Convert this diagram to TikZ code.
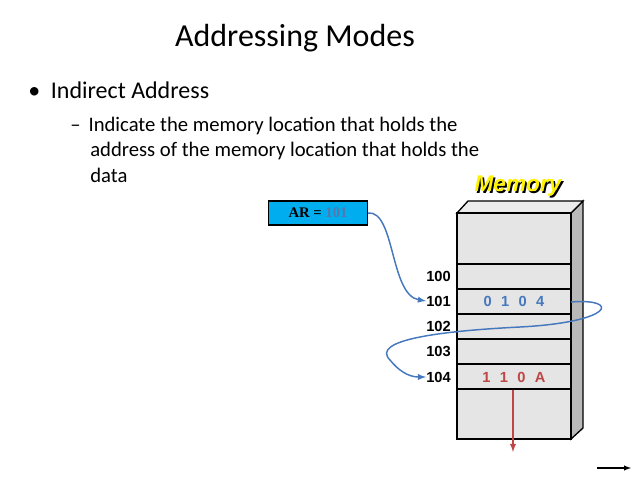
\documentclass[tikz,border=0pt]{standalone}
\usepackage{fontspec}
\setmainfont{Carlito}
\newfontfamily\arialf{Liberation Sans}
\newfontfamily\timesf{Liberation Serif}
\begin{document}
\begin{tikzpicture}[x=0.75pt,y=-0.75pt,
  lbl/.style={font=\arialf\bfseries\fontsize{11}{13}\selectfont,anchor=east,inner sep=0},
  val/.style={font=\arialf\bfseries\fontsize{11}{13}\selectfont,inner sep=0},
  cell/.style={draw=black,line width=1pt,fill=gray!20},
  barrow/.style={draw={rgb,255:red,70;green,120;blue,190},line width=1.1pt,-latex}]
\useasboundingbox (0,0) rectangle (638,478);
\node[font=\fontsize{24}{28}\selectfont] (title) at (295,38) {Addressing Modes};
\node[font=\fontsize{18}{22}\selectfont,anchor=west,inner sep=0] (b1) at (28,90) {\textbullet\hspace{8pt}Indirect Address};
\node[font=\fontsize{15.5}{20}\selectfont,anchor=north west,inner sep=0,align=left] (b2) at (70,117)
 {--\hspace{6pt}Indicate the memory location that holds the\\[-1pt]\hspace{15pt}address of the memory location that holds the\\[-1pt]\hspace{15pt}data};
% memory 3D
\fill[gray!55,draw=black,line width=1pt] (571,213) -- (583,201) -- (583,428) -- (571,439) -- cycle;
\fill[gray!15,draw=black,line width=1pt] (457,213) -- (468,201) -- (583,201) -- (571,213) -- cycle;
\draw[cell] (457,213) rectangle (571,439);
\foreach \y in {264,289,314,339,364,389}{\draw[line width=1.2pt] (457,\y) -- (571,\y);}
\node[font=\arialf\bfseries\itshape\fontsize{17}{20}\selectfont,text=black] at (519.8,187.8) {Memory};
\node[font=\arialf\bfseries\itshape\fontsize{17}{20}\selectfont,text=yellow] (memt) at (518,186) {Memory};
\node[lbl] (a100) at (451,276) {100};
\node[lbl] (a101) at (451,301) {101};
\node[lbl] (a102) at (451,326) {102};
\node[lbl] (a103) at (451,351) {103};
\node[lbl] (a104) at (451,377) {104};
\node[val,text={rgb,255:red,70;green,120;blue,190}] (v101) at (514,301) {0\hspace{7pt}1\hspace{7pt}0\hspace{7pt}4};
\node[val,text={rgb,255:red,190;green,70;blue,70}] (v104) at (514,377) {1\hspace{7pt}1\hspace{7pt}0\hspace{7pt}A};
\node[draw=black,line width=1pt,fill=cyan,minimum width=74pt,minimum height=18pt,font=\timesf\bfseries\fontsize{11}{13}\selectfont] (ar) at (318,213) {AR = \textcolor{cyan!40!blue!60!gray}{101}};
\coordinate (c1) at (571,302);
\draw[barrow] (ar.east) .. controls (395,210) and (390,295) .. (a101.west);
\draw[barrow] (c1) .. controls (620,298) and (615,322) .. (520,327) .. controls (440,331) and (370,340) .. (390,360) .. controls (398,370) and (408,377) .. (a104.west);
\coordinate (r1) at (513,390);
\coordinate (r2) at (513,452);
\draw[draw={rgb,255:red,190;green,70;blue,70},line width=1.1pt,-latex] (r1) -- (r2);
\coordinate (n1) at (597,468);
\coordinate (n2) at (631,468);
\draw[-latex,line width=0.8pt] (n1) -- (n2);
\end{tikzpicture}
\end{document}
